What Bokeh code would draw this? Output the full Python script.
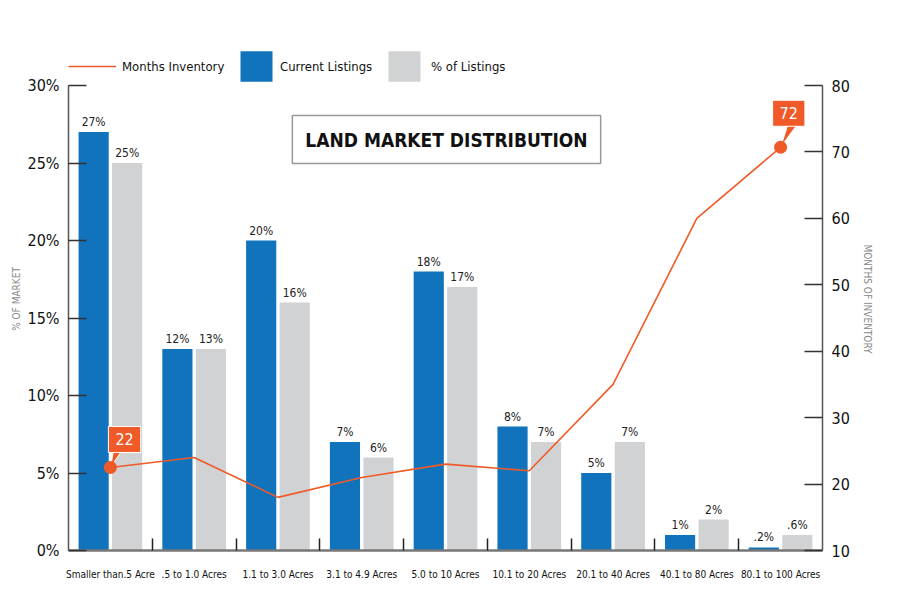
from bokeh.plotting import figure
from bokeh.models import (ColumnDataSource, Range1d, LinearAxis, FixedTicker,
                          Legend, LegendItem, Label)
from bokeh.transform import dodge
from bokeh.embed import file_html
from bokeh.resources import INLINE
from bokeh.core.properties import value

# ---------------- data ----------------
categories = ["Smaller than.5 Acre", ".5 to 1.0 Acres", "1.1 to 3.0 Acres",
              "3.1 to 4.9 Acres", "5.0 to 10 Acres", "10.1 to 20 Acres",
              "20.1 to 40 Acres", "40.1 to 80 Acres", "80.1 to 100 Acres"]
current_listings = [27, 13, 20, 7, 18, 8, 5, 1, 0.2]
current_labels = ["27%", "12%", "20%", "7%", "18%", "8%", "5%", "1%", ".2%"]
pct_listings = [25, 13, 16, 6, 17, 7, 7, 2, 1]
pct_labels = ["25%", "13%", "16%", "6%", "17%", "7%", "7%", "2%", ".6%"]
months_inventory = [22.5, 24, 18, 21, 23, 22, 35, 60, 70.7]
callout_index = [0, 8]
callout_text = ["22", "72"]
left_ticks = [0, 5, 10, 15, 20, 25, 30]
right_ticks = [10, 20, 30, 40, 50, 60, 70, 80]

BLUE = "#1173BB"
GRAY = "#D1D2D4"
ORANGE = "#F05A28"
FONT = "DejaVu Sans Condensed"

W, H = 884, 584
FL, FR, FT, FB = 68, 62, 47, 34
FW, FH = W - FL - FR, H - FT - FB
AXIS_H = 465                      # pixel height of the 0..30 / 10..80 scale
y_top = 30 * FH / AXIS_H
inv_top = 10 + 70 * FH / AXIS_H

n = len(categories)
xs = list(range(n))
src = ColumnDataSource(dict(x=xs, cur=current_listings, curl=current_labels,
                            pct=pct_listings, pctl=pct_labels, inv=months_inventory))

p = figure(width=W, height=H, output_backend="svg", toolbar_location=None,
           x_range=Range1d(-0.5, n - 0.5), y_range=Range1d(0, y_top),
           min_border_left=FL, min_border_right=FR, min_border_top=FT,
           min_border_bottom=FB, outline_line_color=None)
p.xgrid.visible = False
p.ygrid.visible = False
p.extra_y_ranges = {"inv": Range1d(10, inv_top)}

# bars
r_cur = p.vbar(x=dodge("x", -0.2), top="cur", width=0.36, source=src,
               fill_color=BLUE, line_color=None)
r_pct = p.vbar(x=dodge("x", 0.2), top="pct", width=0.36, source=src,
               fill_color=GRAY, line_color=None)
lab_kw = dict(text_font=value(FONT), text_font_size="12px", text_color="#222",
              text_align="center", text_baseline="bottom", y_offset=-3)
p.text(x=dodge("x", -0.2), y="cur", text="curl", source=src, **lab_kw)
p.text(x=dodge("x", 0.2), y="pct", text="pctl", source=src, **lab_kw)

# line
r_line = p.line(x="x", y="inv", source=src, y_range_name="inv",
                line_color=ORANGE, line_width=1.6)

# callouts
px_x = n / FW                 # data units per pixel (x)
px_y = 70.0 / AXIS_H          # data units per pixel (inv axis)
callout_style = {0: (-2, 15, (3, 11)), 8: (-8, 21, (7, 16))}
for i, t in zip(callout_index, callout_text):
    xv, yv = xs[i], months_inventory[i]
    bx, by, tri = callout_style[i]
    p.patch(x=[xv, xv + tri[0] * px_x, xv + tri[1] * px_x],
            y=[yv, yv + (by + 1) * px_y, yv + (by + 1) * px_y], y_range_name="inv",
            fill_color=ORANGE, line_color="white", line_width=1)
    p.scatter(x=[xv], y=[yv], y_range_name="inv", size=13, marker="circle",
              fill_color=ORANGE, line_color=None)
    p.add_layout(Label(x=xv, y=yv, y_range_name="inv", text=t,
                       x_offset=bx, y_offset=by, text_align="left",
                       text_baseline="bottom", text_color="white",
                       text_font=FONT, text_font_size="16px",
                       background_fill_color=ORANGE, border_line_color="white",
                       border_line_width=1, padding=7))

# axes
ax = p.yaxis[0]
ax.ticker = FixedTicker(ticks=left_ticks)
ax.bounds = (0, 30)
ax.major_label_overrides = {v: f"{v}%" for v in left_ticks}
ax.axis_label = "% OF MARKET"
ax.axis_label_text_font = FONT
ax.axis_label_text_font_size = "10px"
ax.axis_label_text_font_style = "normal"
ax.axis_label_text_color = "#888"
ax.axis_label_standoff = 3
ax.major_label_text_font = FONT
ax.major_label_text_font_size = "16px"
ax.major_label_text_color = "#111"
ax.major_label_standoff = 9
ax.major_tick_in = 18
ax.major_tick_out = 0
ax.minor_tick_line_color = None
ax.axis_line_color = "#555"
ax.axis_line_width = 1.5
ax.major_tick_line_color = "#333"
ax.major_tick_line_width = 1.5

ra = LinearAxis(y_range_name="inv", ticker=FixedTicker(ticks=right_ticks),
                bounds=(10, 80))
ra.axis_label = "MONTHS OF INVENTORY"
ra.axis_label_text_font = FONT
ra.axis_label_text_font_size = "10px"
ra.axis_label_text_font_style = "normal"
ra.axis_label_text_color = "#888"
ra.axis_label_standoff = 9
ra.major_label_text_font = FONT
ra.major_label_text_font_size = "16px"
ra.major_label_text_color = "#111"
ra.major_label_standoff = 9
ra.major_tick_in = 18
ra.major_tick_out = 0
ra.minor_tick_line_color = None
ra.axis_line_color = "#555"
ra.axis_line_width = 1.5
ra.major_tick_line_color = "#333"
ra.major_tick_line_width = 1.5
p.add_layout(ra, "right")

bx_ = p.xaxis[0]
bx_.ticker = FixedTicker(ticks=xs, minor_ticks=[i + 0.5 for i in xs[:-1]])
bx_.major_label_overrides = {i: c for i, c in zip(xs, categories)}
bx_.major_label_text_font = FONT
bx_.major_label_text_font_size = "10px"
bx_.major_label_text_color = "#111"
bx_.major_label_standoff = 12
bx_.major_tick_line_color = None
bx_.minor_tick_in = 12
bx_.minor_tick_out = 0
bx_.minor_tick_line_color = "#222"
bx_.minor_tick_line_width = 1.5
bx_.axis_line_color = "#777"
bx_.axis_line_width = 2.5

# title box
p.add_layout(Label(x=378, y=411, x_units="screen", y_units="screen",
                   text="LAND MARKET DISTRIBUTION", text_align="center",
                   text_baseline="middle", text_font=FONT, text_font_size="19px",
                   text_font_style="bold", text_color="#111",
                   background_fill_color="white", border_line_color="#999",
                   border_line_width=1.5, padding=13))

# legends (three, to place each entry like the original)
leg_kw = dict(orientation="horizontal", border_line_color=None,
              background_fill_alpha=0, padding=0, margin=0, spacing=0,
              label_text_font=FONT, label_text_font_size="13px",
              label_text_color="#111")
lg1 = Legend(items=[LegendItem(label="Months Inventory", renderers=[r_line])],
             location=(0, 469), glyph_width=48, glyph_height=30,
             label_standoff=6, label_height=30, **leg_kw)
lg2 = Legend(items=[LegendItem(label="Current Listings", renderers=[r_cur])],
             location=(168, 465), glyph_width=40, glyph_height=38,
             label_standoff=4, label_height=38, **leg_kw)
lg3 = Legend(items=[LegendItem(label="% of Listings", renderers=[r_pct])],
             location=(316, 465), glyph_width=40, glyph_height=38,
             label_standoff=7, label_height=38, **leg_kw)
for lg in (lg1, lg2, lg3):
    p.add_layout(lg)

open("out.html", "w").write(file_html(p, INLINE))
